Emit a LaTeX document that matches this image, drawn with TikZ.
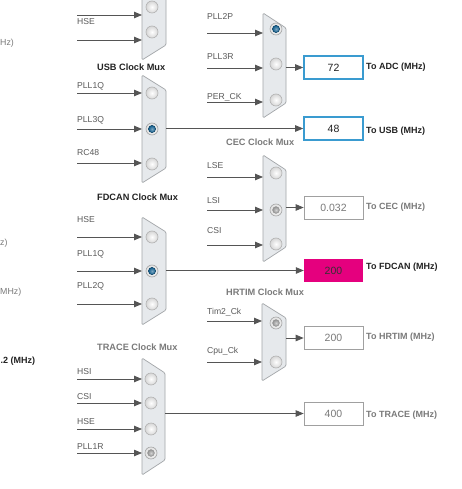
\documentclass[tikz,border=0pt]{standalone}
\usepackage{fontspec}
\setmainfont{Liberation Sans}
\usetikzlibrary{arrows.meta}
\definecolor{arrc}{HTML}{555555}
\definecolor{labc}{HTML}{5A5A5A}
\definecolor{muxfill}{HTML}{E6E9EC}
\definecolor{muxline}{HTML}{A3A6A9}
\definecolor{selblue}{HTML}{0F5C8C}
\definecolor{boxblue}{HTML}{3A9BD0}
\definecolor{boxgray}{HTML}{A0A0A0}
\definecolor{magen}{HTML}{E5007E}
\definecolor{dimtext}{HTML}{7A7A7A}
\definecolor{darktext}{HTML}{222222}
\newcommand\muxin[6]{%
  \coordinate (#1s) at (#2,#4);
  \coordinate (#1e) at (#3,#4);
  \draw[arr] (#1s) -- (#1e);
  \node[inlab] (#1l) at (#2,#5) {#6};}
\newcommand\radoff[1]{%
  \shadedraw[inner color=white, outer color=black!16, draw=black!30, line width=0.6pt] (#1) circle[radius=6];}
\newcommand\radblue[1]{%
  \shadedraw[inner color=white, outer color=black!12, draw=black!35, line width=0.6pt] (#1) circle[radius=6];
  \shadedraw[inner color=selblue!55, outer color=selblue, draw=selblue!70!black, line width=0.5pt] (#1) circle[radius=3.6];}
\newcommand\radgray[1]{%
  \shadedraw[inner color=white, outer color=black!12, draw=black!35, line width=0.6pt] (#1) circle[radius=6];
  \shadedraw[inner color=black!18, outer color=black!42, draw=black!45, line width=0.5pt] (#1) circle[radius=3.4];}
\begin{document}
\begin{tikzpicture}[x=1pt,y=-1pt,
  mux/.style={fill=muxfill, draw=muxline, line width=0.7pt, rounded corners=1.2pt},
  inlab/.style={anchor=west, inner sep=0pt, text=labc, font=\fontsize{8.6}{10}\selectfont},
  muxlab/.style={anchor=west, inner sep=0pt, font=\bfseries\fontsize{9.2}{10}\selectfont},
  arr/.style={draw=arrc, line width=0.8pt, -{Triangle[length=8pt,width=6.5pt]}},
  valbox/.style={rectangle, minimum width=59pt, minimum height=23pt, inner sep=0pt, font=\fontsize{10.5}{12}\selectfont},
  bluebox/.style={valbox, draw=boxblue, line width=1.6pt, text=darktext},
  graybox/.style={valbox, draw=boxgray, line width=0.7pt, text=dimtext},
  magbox/.style={valbox, fill=magen, text=black!80},
  outlab/.style={anchor=west, inner sep=0pt, font=\bfseries\fontsize{9}{10}\selectfont},
  cutlab/.style={anchor=west, inner sep=0pt, text=dimtext, font=\fontsize{8.8}{10}\selectfont}]
\useasboundingbox (0,0) rectangle (462,489);
\fill[white] (0,0) rectangle (462,489);

% cut-off texts at left
\node[cutlab] (cut1) at (0,43) {Hz)};
\node[cutlab] (cut2) at (0,243) {z)};
\node[cutlab] (cut3) at (0,292) {MHz)};
\node[outlab, text=darktext] (cut4) at (0.5,361) {.2 (MHz)};

% ---------- mux bodies ----------
\draw[mux] (142,-20) -- (166,-5) -- (166,45) -- (142,60) -- cycle;
\draw[mux] (142,75) -- (166,90) -- (166,168) -- (142,183) -- cycle;
\draw[mux] (142,217) -- (166,232) -- (166,310) -- (142,325) -- cycle;
\draw[mux] (142,358) -- (165,373) -- (165,460) -- (142,475) -- cycle;
\draw[mux] (263,13) -- (286,28) -- (286,103) -- (263,118) -- cycle;
\draw[mux] (263,155) -- (286,170) -- (286,247) -- (263,262) -- cycle;
\draw[mux] (262,303) -- (286,318) -- (286,366) -- (262,381) -- cycle;

% ---------- mux titles ----------
\node[muxlab, text=darktext] (tUSB) at (97,67) {USB Clock Mux};
\node[muxlab, text=darktext] (tFD) at (97,197) {FDCAN Clock Mux};
\node[muxlab, text=dimtext] (tTR) at (97,347) {TRACE Clock Mux};
\node[muxlab, text=dimtext] (tCEC) at (226,142) {CEC Clock Mux};
\node[muxlab, text=dimtext] (tHR) at (226,292) {HRTIM Clock Mux};

% ---------- inputs ----------
% top cut mux
\coordinate (t0s) at (77,15); \coordinate (t0e) at (142,15);
\draw[arr] (t0s) -- (t0e);
\muxin{t1}{77}{142}{40}{22}{HSE}
% USB
\muxin{u1}{77}{142}{93}{86}{PLL1Q}
\muxin{u2}{77}{142}{129}{120}{PLL3Q}
\muxin{u3}{77}{142}{163}{153}{RC48}
% FDCAN
\muxin{f1}{77}{142}{237}{220}{HSE}
\muxin{f2}{77}{142}{271}{254}{PLL1Q}
\muxin{f3}{77}{142}{304}{286}{PLL2Q}
% TRACE
\muxin{r1}{77}{142}{379}{372}{HSI}
\muxin{r2}{77}{142}{403}{397}{CSI}
\muxin{r3}{77}{142}{429}{422}{HSE}
\muxin{r4}{77}{142}{453}{447}{PLL1R}
% ADC
\muxin{a1}{207}{263}{33}{17}{PLL2P}
\muxin{a2}{207}{263}{68}{57}{PLL3R}
\muxin{a3}{207}{263}{102}{97}{PER\_CK}
% CEC
\muxin{c1}{207}{263}{177}{166}{LSE}
\muxin{c2}{207}{263}{210}{201}{LSI}
\muxin{c3}{207}{263}{245}{231}{CSI}
% HRTIM
\muxin{h1}{207}{262}{321}{312}{Tim2\_Ck}
\muxin{h2}{207}{262}{362}{351}{Cpu\_Ck}

% ---------- selector circles ----------
\radoff{152,7} \radoff{152,32}
\radoff{152,93} \radblue{152,129} \radoff{152,164}
\radoff{152,237} \radblue{152,271} \radoff{152,304}
\radoff{151,379} \radoff{151,403} \radoff{151,429} \radgray{151,453}
\radblue{276,29} \radoff{276,64} \radoff{276,100}
\radoff{276,173} \radgray{276,210} \radoff{276,244}
\radgray{276,323} \radoff{276,362}

% ---------- output boxes ----------
\node[bluebox] (adcB) at (333.5,67.5) {72};
\node[bluebox] (usbB) at (333.5,128.5) {48};
\node[graybox] (cecB) at (333.5,207.5) {0.032};
\node[magbox] (fdB) at (333.5,270.5) {200};
\node[graybox] (hrB) at (333.5,338) {200};
\node[graybox] (trB) at (333.5,413.5) {400};

\node[outlab, text=darktext] (adcT) at (366,67) {To ADC (MHz)};
\node[outlab, text=darktext] (usbT) at (366,131) {To USB (MHz)};
\node[outlab, text=dimtext] (cecT) at (366,207) {To CEC (MHz)};
\node[outlab, text=darktext] (fdT) at (366,267) {To FDCAN (MHz)};
\node[outlab, text=dimtext] (hrT) at (366,337) {To HRTIM (MHz)};
\node[outlab, text=dimtext] (trT) at (366,415) {To TRACE (MHz)};

% ---------- outputs ----------
\coordinate (adcO) at (286,67.5);
\coordinate (usbO) at (166,128.5);
\coordinate (cecO) at (286,207.5);
\coordinate (fdO) at (166,270.5);
\coordinate (hrO) at (286,338);
\coordinate (trO) at (165,413.5);
\draw[arr] (adcO) -- (adcB.west);
\draw[arr] (usbO) -- (usbB.west);
\draw[arr] (cecO) -- (cecB.west);
\draw[arr] (fdO) -- (fdB.west);
\draw[arr] (hrO) -- (hrB.west);
\draw[arr] (trO) -- (trB.west);
\end{tikzpicture}
\end{document}
